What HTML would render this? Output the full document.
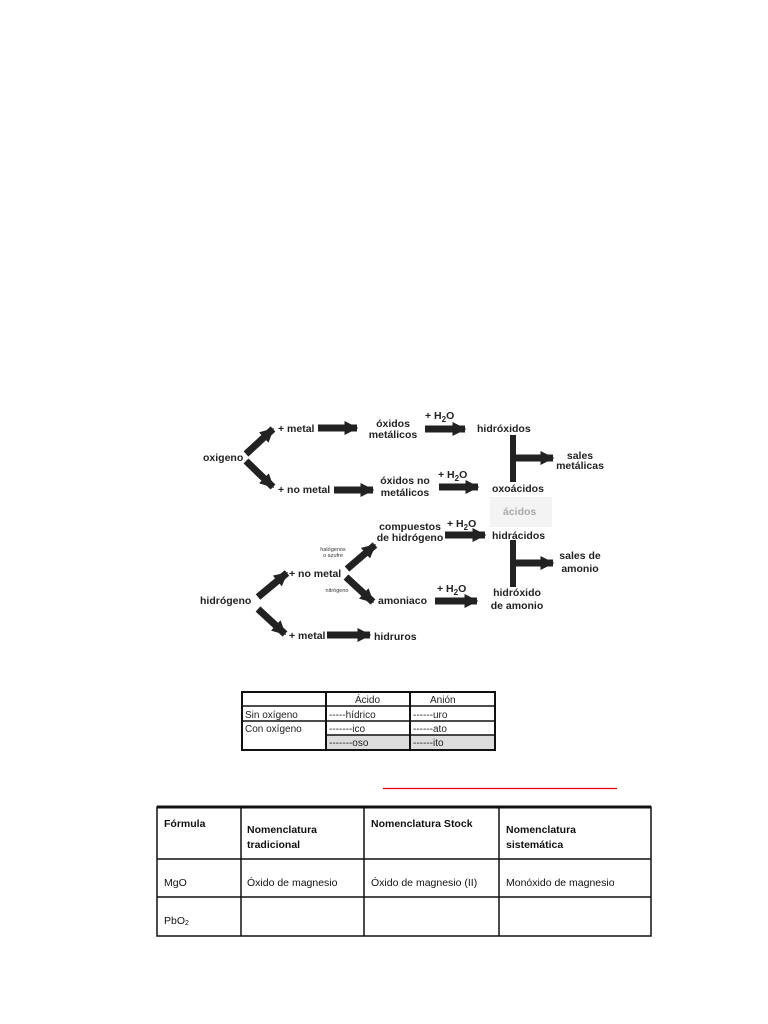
<!DOCTYPE html>
<html><head><meta charset="utf-8"><style>
html,body{margin:0;padding:0;background:#fff;}
svg{display:block;}
.b{font-family:"Liberation Sans",Arial,sans-serif;font-weight:bold;font-size:10.5px;fill:#222;}
.s{font-family:"Liberation Sans",Arial,sans-serif;font-size:5.5px;fill:#333;}
.t{font-family:"Liberation Sans",Arial,sans-serif;font-size:10px;fill:#222;}
.c{font-family:"Liberation Sans",Arial,sans-serif;font-size:10.5px;fill:#111;}
.cb{font-family:"Liberation Sans",Arial,sans-serif;font-size:10.5px;font-weight:bold;fill:#111;}
</style></head><body>
<svg width="768" height="1024" viewBox="0 0 768 1024" xmlns="http://www.w3.org/2000/svg">
<defs>
<marker id="h" viewBox="0 0 10 10" refX="9" refY="5" markerUnits="userSpaceOnUse" markerWidth="14" markerHeight="16" orient="auto">
<path d="M0,0 L10,5 L0,10 Z" fill="#222"/></marker>
</defs>
<g stroke="#222" stroke-width="7" marker-end="url(#h)">
<line x1="246" y1="454" x2="273" y2="429"/>
<line x1="246" y1="461" x2="273" y2="487"/>
<line x1="318" y1="428" x2="357" y2="428"/>
<line x1="425" y1="429" x2="465" y2="429"/>
<line x1="334" y1="490" x2="373" y2="490"/>
<line x1="439" y1="487" x2="478" y2="487"/>
<line x1="515" y1="458" x2="553" y2="458"/>
<line x1="445" y1="535" x2="485" y2="535"/>
<line x1="515" y1="563" x2="553" y2="563"/>
<line x1="347" y1="569" x2="375" y2="545"/>
<line x1="346" y1="577" x2="373" y2="602"/>
<line x1="435" y1="601" x2="477" y2="601"/>
<line x1="258" y1="597" x2="287" y2="573"/>
<line x1="258" y1="609" x2="285" y2="634"/>
<line x1="327" y1="635" x2="370" y2="635"/>
</g>
<rect x="490" y="497" width="62" height="30" fill="#f3f3f3"/>
<rect x="510" y="435" width="6" height="47" fill="#222"/>
<rect x="510" y="540" width="6" height="47" fill="#222"/>
<g class="b">
<text x="203" y="461">oxigeno</text>
<text x="278" y="432">+ metal</text>
<text x="393" y="427" text-anchor="middle">óxidos</text>
<text x="393" y="438" text-anchor="middle">metálicos</text>
<text x="425" y="419">+ H<tspan font-size="8" dy="3">2</tspan><tspan dy="-3">O</tspan></text>
<text x="477" y="432">hidróxidos</text>
<text x="580" y="459" text-anchor="middle">sales</text>
<text x="580" y="469" text-anchor="middle">metálicas</text>
<text x="278" y="493">+ no metal</text>
<text x="405" y="484" text-anchor="middle">óxidos no</text>
<text x="405" y="496" text-anchor="middle">metálicos</text>
<text x="438" y="478">+ H<tspan font-size="8" dy="3">2</tspan><tspan dy="-3">O</tspan></text>
<text x="492" y="492">oxoácidos</text>
<text x="503" y="515" style="fill:#aaa">ácidos</text>
<text x="410" y="530" text-anchor="middle">compuestos</text>
<text x="410" y="541" text-anchor="middle">de hidrógeno</text>
<text x="447" y="527">+ H<tspan font-size="8" dy="3">2</tspan><tspan dy="-3">O</tspan></text>
<text x="492" y="539">hidrácidos</text>
<text x="580" y="559" text-anchor="middle">sales de</text>
<text x="580" y="572" text-anchor="middle">amonio</text>
<text x="289" y="577">+ no metal</text>
<text x="378" y="604">amoniaco</text>
<text x="437" y="592">+ H<tspan font-size="8" dy="3">2</tspan><tspan dy="-3">O</tspan></text>
<text x="517" y="596" text-anchor="middle">hidróxido</text>
<text x="517" y="609" text-anchor="middle">de amonio</text>
<text x="200" y="604">hidrógeno</text>
<text x="289" y="639">+ metal</text>
<text x="374" y="640">hidruros</text>
</g>
<text class="s" x="333" y="551" text-anchor="middle">halógenos</text>
<text class="s" x="333" y="557" text-anchor="middle">o azufre</text>
<text class="s" x="337" y="592" text-anchor="middle">nitrógeno</text>

<rect x="326" y="735" width="169" height="15" fill="#ddd"/>
<g stroke="#111" fill="none">
<rect x="242" y="692" width="253" height="58" stroke-width="2"/>
<line x1="326" y1="692" x2="326" y2="750" stroke-width="2"/>
<line x1="410" y1="692" x2="410" y2="750" stroke-width="2"/>
<line x1="242" y1="706" x2="495" y2="706" stroke-width="1.5"/>
<line x1="242" y1="721" x2="495" y2="721" stroke-width="1.5"/>
<line x1="326" y1="735" x2="495" y2="735" stroke-width="1.5"/>
</g>
<g class="t">
<text x="355" y="703">Ácido</text>
<text x="430" y="703">Anión</text>
<text x="245" y="718">Sin oxígeno</text>
<text x="329" y="718">-----hídrico</text>
<text x="413" y="718">------uro</text>
<text x="245" y="732">Con oxígeno</text>
<text x="329" y="732">-------ico</text>
<text x="413" y="732">------ato</text>
<text x="329" y="746">-------oso</text>
<text x="413" y="746">------ito</text>
</g>
<line x1="383" y1="788.5" x2="617" y2="788.5" stroke="#e00" stroke-width="1.2"/>

<g stroke="#111" fill="none" stroke-width="1.5">
<rect x="157" y="807" width="494" height="129"/>
<line x1="157" y1="807" x2="651" y2="807" stroke-width="3"/>
<line x1="241" y1="807" x2="241" y2="936"/>
<line x1="364" y1="807" x2="364" y2="936"/>
<line x1="499" y1="807" x2="499" y2="936"/>
<line x1="157" y1="859" x2="651" y2="859"/>
<line x1="157" y1="897" x2="651" y2="897"/>
</g>
<g class="cb">
<text x="164" y="827">Fórmula</text>
<text x="247" y="833">Nomenclatura</text>
<text x="247" y="848">tradicional</text>
<text x="371" y="827">Nomenclatura Stock</text>
<text x="506" y="833">Nomenclatura</text>
<text x="506" y="848">sistemática</text>
</g>
<g class="c">
<text x="164" y="886">MgO</text>
<text x="247" y="886">Óxido de magnesio</text>
<text x="371" y="886">Óxido de magnesio (II)</text>
<text x="506" y="886">Monóxido de magnesio</text>
<text x="164" y="924">PbO<tspan font-size="7" dy="1">2</tspan></text>
</g>
</svg>
</body></html>
